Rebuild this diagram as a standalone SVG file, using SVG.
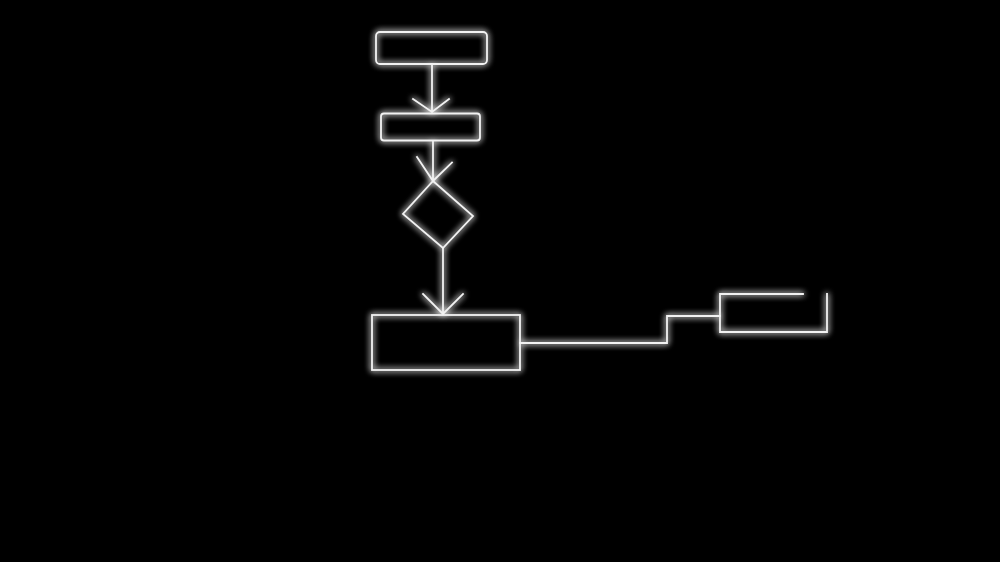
<svg xmlns="http://www.w3.org/2000/svg" width="1000" height="562" viewBox="0 0 1000 562">
  <defs>
    <filter id="glow" x="-20%" y="-20%" width="140%" height="140%">
      <feGaussianBlur in="SourceGraphic" stdDeviation="3" result="b"/>
      <feMerge>
        <feMergeNode in="b"/>
        <feMergeNode in="b"/>
        <feMergeNode in="SourceGraphic"/>
      </feMerge>
    </filter>
    <style>
      .s { fill: none; stroke: #f2f2f2; stroke-width: 1.8; stroke-linecap: square; stroke-linejoin: miter; }
    </style>
  </defs>
  <rect x="0" y="0" width="1000" height="562" fill="#000"/>
  <g filter="url(#glow)">
    <g id="start">
      <rect class="s" x="376" y="32" width="111" height="32" rx="4"/>
    </g>
    <g id="process1">
      <rect class="s" x="381" y="113.5" width="99" height="27" rx="3"/>
    </g>
    <g id="decision">
      <polygon class="s" points="433,181 473,216 443,248 403,214"/>
    </g>
    <g id="process2">
      <rect class="s" x="372" y="315" width="148" height="55"/>
    </g>
    <g id="output">
      <path class="s" d="M803,294 H720 V332 H827 V294"/>
    </g>
    <g id="connectors">
      <path class="s" d="M432,64 V111.5"/>
      <path class="s" d="M413,99 L432,112 L449,99"/>
      <path class="s" d="M433,141 V181"/>
      <path class="s" d="M417,157 L433,181 L452,162.5"/>
      <path class="s" d="M443,248 V314"/>
      <path class="s" d="M423,294 L443,314 L463,294"/>
      <path class="s" d="M520,343 H667 V316 H720"/>
    </g>
  </g>
</svg>
